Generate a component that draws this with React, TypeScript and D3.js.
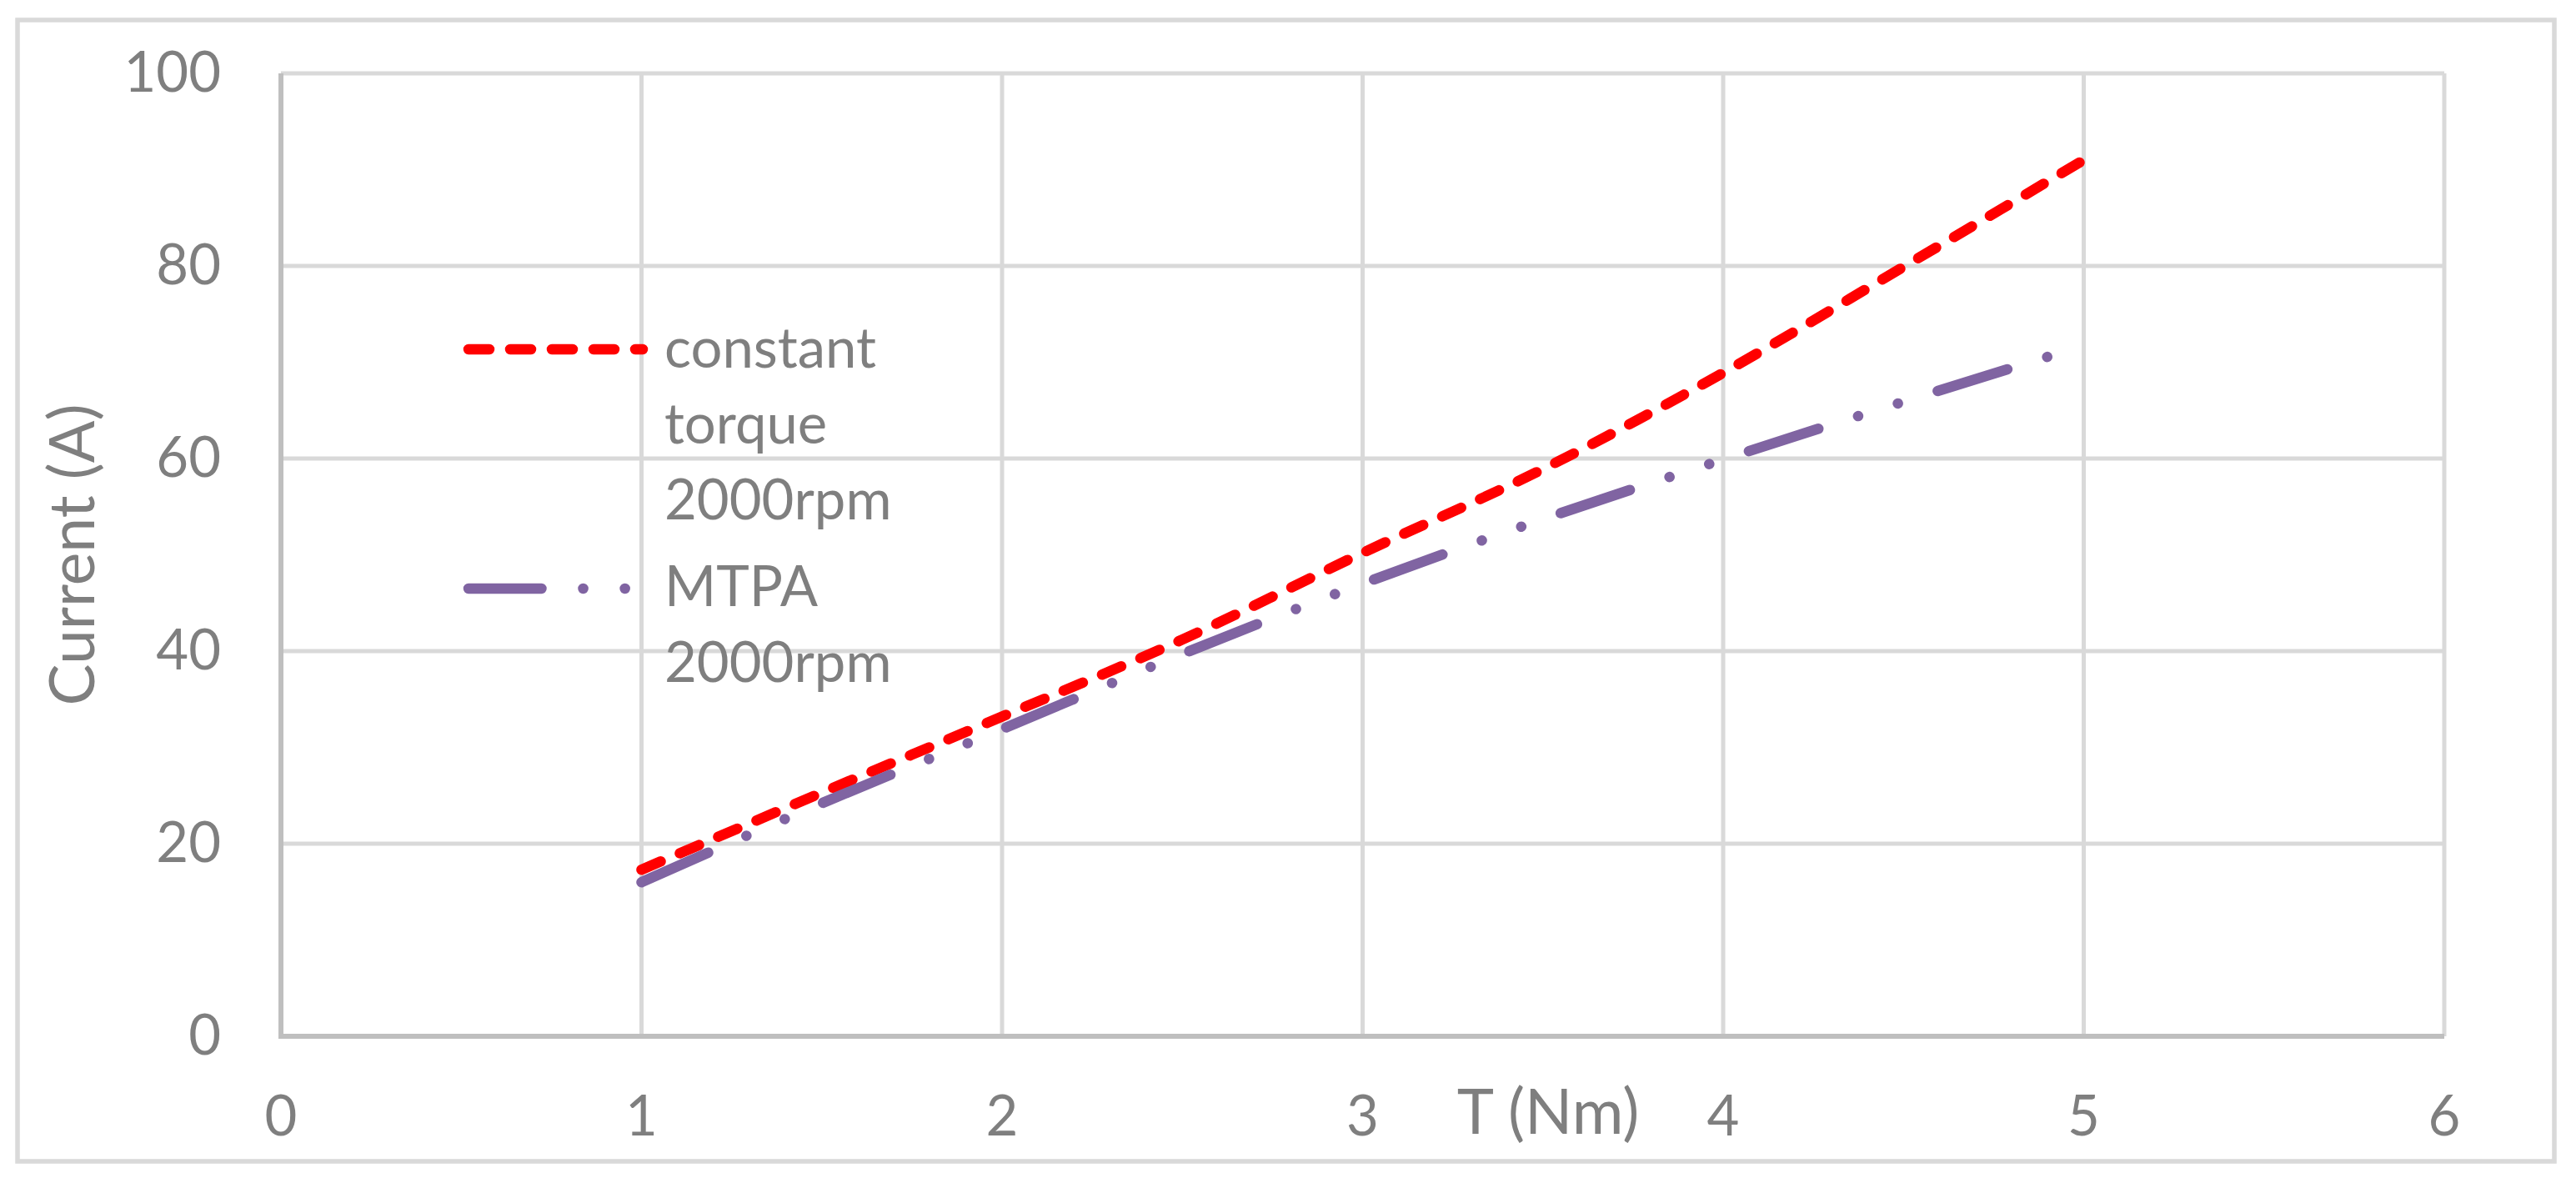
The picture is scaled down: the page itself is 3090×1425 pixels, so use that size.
import React from "react";
import * as d3 from "d3";

// ---- data ----
const xTicks = [0, 1, 2, 3, 4, 5, 6];
const yTicks = [0, 20, 40, 60, 80, 100];

const ctTorque = [1, 1.5, 2, 2.5, 3, 3.5, 4, 4.5, 5];
const ctCurrent = [17.3, 25.3, 33.2, 41.2, 50.2, 58.9, 68.9, 79.9, 91.0];

const mtpaTorque = [1, 1.5, 2, 2.5, 3, 3.5, 4, 4.5, 4.92];
const mtpaCurrent = [16.0, 24.2, 31.9, 39.7, 47.0, 53.7, 59.9, 65.9, 70.8];

const seriesNames = [
  ["constant", "torque", "2000rpm"],
  ["MTPA", "2000rpm"],
];
const xTitle = "T (Nm)";
const yTitle = "Current (A)";

// ---- layout ----
const W = 3090;
const H = 1425;
const FONT = "Lato, 'Open Sans', sans-serif";
const TEXT = "#7f7f7f";
const GRID = "#d9d9d9";
const AXIS = "#bfbfbf";
const RED = "#ff0000";
const PURPLE = "#8064a2";
const LW = 12.5;

const x = d3.scaleLinear().domain([0, 6]).range([337, 2932]);
const y = d3.scaleLinear().domain([0, 100]).range([1243, 88]);

const lineGen = d3
  .line<[number, number]>()
  .x((d) => x(d[0]))
  .y((d) => y(d[1]))
  .curve(d3.curveMonotoneX);

const redDash = `${2 * LW} ${2 * LW}`;
const purpleDash = `${7 * LW} ${4 * LW} 0.1 ${4 * LW} 0.1 ${4 * LW}`;

export default function App() {
  const ct: [number, number][] = ctTorque.map((t, i) => [t, ctCurrent[i]]);
  const mt: [number, number][] = mtpaTorque.map((t, i) => [t, mtpaCurrent[i]]);
  const [x0, x1] = x.range();
  const [y0, y1] = y.range();

  const legendX0 = 562;
  const legendX1 = 771;
  const legendTextX = 797;

  return (
    <div style={{ position: "absolute", left: 0, top: 0 }}>
      <svg width={W} height={H} xmlns="http://www.w3.org/2000/svg" style={{ display: "block", background: "#fff" }}>
        <rect x={0} y={0} width={W} height={H} fill="#fff" />
        {/* outer border */}
        <rect x={21} y={24} width={3043} height={1369} fill="none" stroke={GRID} strokeWidth={5.5} />

        {/* gridlines */}
        {yTicks.filter((v) => v !== 0).map((v) => (
          <line key={"gy" + v} x1={x0} x2={x1} y1={y(v)} y2={y(v)} stroke={GRID} strokeWidth={5} />
        ))}
        {xTicks.filter((v) => v !== 0).map((v) => (
          <line key={"gx" + v} x1={x(v)} x2={x(v)} y1={y1} y2={y0} stroke={GRID} strokeWidth={5} />
        ))}
        {/* axis lines */}
        <line x1={x0} x2={x0} y1={y1} y2={y0 + 3} stroke={AXIS} strokeWidth={6} />
        <line x1={x0 - 3} x2={x1} y1={y0} y2={y0} stroke={AXIS} strokeWidth={6} />

        {/* tick labels */}
        {yTicks.map((v) => (
          <text key={"ty" + v} x={265} y={y(v) + 22} textAnchor="end" fontFamily={FONT} fontSize={67} fill={TEXT}>
            {v}
          </text>
        ))}
        {xTicks.map((v) => (
          <text key={"tx" + v} x={x(v)} y={1362} textAnchor="middle" fontFamily={FONT} fontSize={67} fill={TEXT}>
            {v}
          </text>
        ))}

        {/* axis titles */}
        <text x={1857} y={1360} textAnchor="middle" fontFamily={FONT} fontSize={75} fill={TEXT}>
          {xTitle}
        </text>
        <text
          transform={`translate(113, ${(y0 + y1) / 2}) rotate(-90)`}
          textAnchor="middle"
          fontFamily={FONT}
          fontSize={75}
          fill={TEXT}
        >
          {yTitle}
        </text>

        {/* series */}
        <path d={lineGen(ct) || ""} fill="none" stroke={RED} strokeWidth={LW} strokeLinecap="round" strokeLinejoin="round" strokeDasharray={redDash} />
        <path d={lineGen(mt) || ""} fill="none" stroke={PURPLE} strokeWidth={LW} strokeLinecap="round" strokeLinejoin="round" strokeDasharray={purpleDash} />

        {/* legend */}
        <line x1={legendX0} x2={legendX1} y1={419} y2={419} stroke={RED} strokeWidth={LW} strokeLinecap="round" strokeDasharray={redDash} />
        {seriesNames[0].map((s, i) => (
          <text key={"l0" + i} x={legendTextX} y={441 + i * 91} fontFamily={FONT} fontSize={67} fill={TEXT}>
            {s}
          </text>
        ))}
        <line x1={legendX0} x2={legendX1} y1={706} y2={706} stroke={PURPLE} strokeWidth={LW} strokeLinecap="round" strokeDasharray={purpleDash} />
        {seriesNames[1].map((s, i) => (
          <text key={"l1" + i} x={legendTextX} y={727 + i * 91} fontFamily={FONT} fontSize={67} fill={TEXT}>
            {s}
          </text>
        ))}
      </svg>
    </div>
  );
}
